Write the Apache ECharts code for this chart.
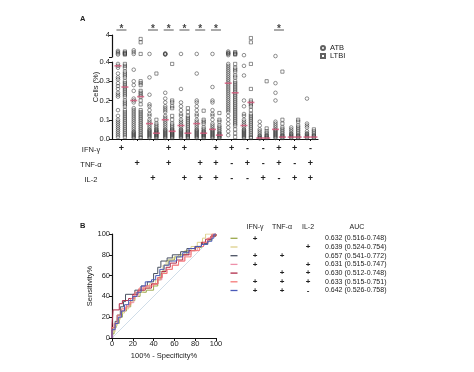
<!DOCTYPE html>
<html><head><meta charset="utf-8">
<script src="https://cdn.jsdelivr.net/npm/echarts@6/dist/echarts.min.js"></script>
<style>html,body{margin:0;padding:0;background:#fff}#c{width:474px;height:372px}</style>
</head><body><div id="c"></div>
<script>
// ---------- Panel A data ----------
const ifnRow = ['+','','','+','+','','+','+','-','-','+','+','-'];
const tnfRow = ['','+','','+','','+','+','-','+','-','+','-','+'];
const il2Row = ['','','+','','+','+','+','-','-','+','-','+','+'];
const rowLabels = ['IFN-\u03b3','TNF-\u03b1','IL-2'];
const sigGroups = [1,3,4,5,6,7,11];
const atbVals = [
 [1.4,1.2,1.0,0.8,0.39,0.38,0.37,0.34,0.32,0.31,0.29,0.275,0.26,0.24,0.23,0.22,0.15,0.12,0.1,0.09,0.08,0.07,0.06,0.05,0.04,0.03,0.02,0.01],
 [1.5,1.2,0.9,0.36,0.3,0.28,0.25,0.21,0.2,0.19,0.16,0.15,0.14,0.13,0.12,0.11,0.1,0.09,0.08,0.07,0.06,0.05,0.04,0.035,0.03,0.025,0.02,0.015,0.01,0.005],
 [0.9,0.32,0.23,0.18,0.17,0.15,0.13,0.12,0.1,0.09,0.08,0.07,0.06,0.05,0.045,0.04,0.035,0.03,0.025,0.02,0.015,0.01,0.005],
 [1.0,0.9,0.85,0.8,0.24,0.21,0.19,0.17,0.16,0.15,0.14,0.12,0.11,0.1,0.09,0.08,0.07,0.06,0.05,0.045,0.04,0.035,0.03,0.025,0.02,0.015,0.01,0.005],
 [0.9,0.26,0.19,0.17,0.15,0.13,0.12,0.1,0.09,0.08,0.07,0.06,0.05,0.045,0.04,0.035,0.03,0.025,0.02,0.015,0.01,0.005],
 [0.9,0.34,0.2,0.19,0.17,0.15,0.13,0.12,0.1,0.09,0.08,0.07,0.06,0.05,0.045,0.04,0.035,0.03,0.025,0.02,0.015,0.01,0.005],
 [0.9,0.27,0.2,0.19,0.15,0.13,0.12,0.1,0.08,0.07,0.06,0.05,0.045,0.04,0.035,0.03,0.025,0.02,0.015,0.01,0.005],
 [1.3,1.1,1.0,0.9,0.7,0.39,0.38,0.37,0.36,0.35,0.34,0.33,0.32,0.31,0.3,0.29,0.28,0.27,0.26,0.25,0.24,0.23,0.22,0.21,0.2,0.19,0.18,0.17,0.16,0.15,0.14,0.12,0.1,0.08,0.06,0.04,0.02],
 [0.7,0.38,0.33,0.2,0.17,0.13,0.12,0.1,0.09,0.08,0.07,0.06,0.05,0.045,0.04,0.035,0.03,0.025,0.02,0.015,0.01,0.005],
 [0.09,0.07,0.05,0.04,0.03,0.02,0.015,0.01,0.005,0.003],
 [0.55,0.29,0.24,0.2,0.09,0.08,0.07,0.06,0.05,0.045,0.04,0.035,0.03,0.025,0.02,0.015,0.01,0.005],
 [0.06,0.05,0.04,0.03,0.025,0.02,0.015,0.01,0.005],
 [0.21,0.08,0.07,0.06,0.04,0.03,0.025,0.02,0.015,0.01,0.005]
];
const ltbiVals = [
 [1.3,1.1,1.0,0.9,0.8,0.39,0.38,0.37,0.35,0.34,0.33,0.32,0.3,0.29,0.28,0.27,0.26,0.25,0.24,0.23,0.22,0.2,0.19,0.18,0.17,0.15,0.14,0.13,0.12,0.11,0.1,0.09,0.08,0.07,0.06,0.05,0.04,0.03,0.02,0.01],
 [3.35,2.8,0.9,0.3,0.29,0.28,0.25,0.24,0.23,0.22,0.2,0.18,0.15,0.14,0.13,0.12,0.11,0.1,0.09,0.08,0.07,0.06,0.05,0.04,0.03,0.02,0.01,0.005],
 [0.34,0.1,0.08,0.07,0.06,0.05,0.045,0.04,0.035,0.03,0.025,0.02,0.015,0.01,0.005],
 [0.39,0.2,0.19,0.17,0.16,0.12,0.1,0.08,0.07,0.06,0.05,0.045,0.04,0.035,0.03,0.025,0.02,0.015,0.01,0.005],
 [0.16,0.14,0.12,0.11,0.1,0.09,0.08,0.07,0.06,0.05,0.04,0.035,0.03,0.025,0.02,0.015,0.01,0.005],
 [0.147,0.1,0.09,0.08,0.06,0.05,0.04,0.035,0.03,0.025,0.02,0.015,0.01,0.005],
 [0.135,0.1,0.09,0.07,0.06,0.05,0.04,0.03,0.025,0.02,0.015,0.01,0.005],
 [1.2,1.0,0.9,0.8,0.39,0.37,0.36,0.35,0.33,0.32,0.3,0.29,0.28,0.27,0.26,0.25,0.24,0.23,0.22,0.21,0.2,0.19,0.18,0.17,0.16,0.15,0.14,0.13,0.12,0.11,0.1,0.09,0.08,0.07,0.05,0.03,0.01],
 [3.5,2.8,0.39,0.26,0.2,0.19,0.18,0.17,0.15,0.13,0.12,0.11,0.1,0.09,0.08,0.07,0.06,0.05,0.04,0.03,0.02,0.01,0.005],
 [0.3,0.055,0.04,0.03,0.02,0.015,0.01,0.005],
 [0.35,0.1,0.08,0.06,0.05,0.04,0.03,0.02,0.015,0.01,0.005],
 [0.1,0.09,0.07,0.06,0.05,0.04,0.03,0.02,0.015,0.01,0.005],
 [0.05,0.04,0.03,0.02,0.015,0.01,0.005]
];
const atbMedian  = [0.38,0.20,0.08,0.10,0.07,0.08,0.05,0.29,0.07,0.005,0.05,0.01,0.01];
const ltbiMedian = [0.27,0.22,0.03,0.04,0.03,0.03,0.02,0.24,0.19,0.005,0.01,0.01,0.01];

// ---------- Panel B data ----------
const rocNames = ['IFN','IL2','IFN+TNF','IFN+IL2','TNF+IL2','IFN+TNF+IL2','IFN+TNF+IL2-'];
const rocColors = ['#9aa84a','#ddd08a','#4a5262','#ee90aa','#b02a48','#f57a78','#4a5ab8'];
const rocIfn = ['+','','+','+','','+','+'];
const rocTnf = ['','','+','','+','+','+'];
const rocIl2 = ['','+','','+','+','+','-'];
const rocAuc = ['0.632 (0.516-0.748)','0.639 (0.524-0.754)','0.657 (0.541-0.772)','0.631 (0.515-0.747)','0.630 (0.512-0.748)','0.633 (0.515-0.751)','0.642 (0.526-0.758)'];
const rocCurves = [
 [[0,0],[0,4],[2,10],[4,14],[7,20],[10,26],[14,30],[18,36],[22,40],[27,44],[33,46],[40,50],[44,56],[47,62],[50,70],[54,75],[60,78],[66,80],[72,84],[80,87],[86,90],[92,94],[96,98],[100,100]],
 [[0,0],[0,6],[3,12],[5,18],[8,24],[12,28],[16,34],[20,40],[24,44],[30,48],[36,52],[42,56],[46,64],[49,70],[52,74],[58,77],[64,80],[70,84],[76,88],[82,92],[87,96],[90,100],[100,100]],
 [[0,0],[0,10],[3,16],[5,22],[8,30],[11,35],[13,42],[22,46],[28,50],[34,54],[40,62],[44,68],[47,74],[53,77],[58,80],[66,83],[72,86],[80,88],[86,91],[92,95],[96,99],[98,100],[100,100]],
 [[0,0],[0,8],[3,14],[6,20],[9,26],[13,30],[17,34],[21,40],[25,46],[30,50],[38,52],[44,56],[48,62],[52,66],[58,70],[64,74],[70,80],[76,84],[82,88],[88,92],[93,96],[97,100],[100,100]],
 [[0,0],[0,12],[1,27],[7,33],[10,36],[16,38],[20,42],[25,46],[32,48],[38,52],[44,58],[48,64],[52,68],[56,72],[62,75],[68,80],[74,84],[80,88],[86,92],[90,95],[95,98],[100,100]],
 [[0,0],[0,10],[2,14],[5,22],[9,28],[14,32],[18,38],[22,44],[26,48],[32,50],[40,52],[44,58],[48,62],[53,66],[58,70],[64,74],[70,78],[76,84],[84,88],[88,92],[92,96],[96,100],[100,100]],
 [[0,0],[0,8],[3,14],[6,20],[9,26],[12,32],[16,36],[20,40],[24,44],[28,50],[32,54],[38,56],[42,60],[46,66],[50,70],[55,74],[62,78],[68,82],[74,86],[80,88],[86,90],[92,93],[96,96],[98,100],[100,100]]
];
const diagonal = [[0,0],[100,100]];

// ---------- build ----------
const FONT = 'Liberation Sans, Arial, sans-serif';
const TXT = '#222';
const groups = ifnRow.map((_, i) => i + 1);
const OFF = 0.22;
function pts(arr, off, upper) {
  const out = [];
  arr.forEach((vals, i) => vals.forEach(v => { if (upper ? v > 0.4 : v <= 0.4) out.push([i + 1 + off, v]); }));
  return out;
}
const hollow = {color: 'rgba(0,0,0,0)', borderColor: '#3a3a3a', borderWidth: 0.7};
const axisBlack = {lineStyle: {color: '#111', width: 1.2}};
const xMin = 0.4, xMax = 13.48;

const series = [
  {name: 'ATB', type: 'scatter', xAxisIndex: 1, yAxisIndex: 1, symbol: 'circle', symbolSize: 3.6, itemStyle: hollow, data: pts(atbVals, -OFF, false)},
  {name: 'ATB', type: 'scatter', xAxisIndex: 0, yAxisIndex: 0, symbol: 'circle', symbolSize: 3.6, itemStyle: hollow, data: pts(atbVals, -OFF, true)},
  {name: 'LTBI', type: 'scatter', xAxisIndex: 1, yAxisIndex: 1, symbol: 'rect', symbolSize: 3.2, itemStyle: hollow, data: pts(ltbiVals, OFF, false)},
  {name: 'LTBI', type: 'scatter', xAxisIndex: 0, yAxisIndex: 0, symbol: 'rect', symbolSize: 3.2, itemStyle: hollow, data: pts(ltbiVals, OFF, true)},
  {name: 'medA', type: 'scatter', xAxisIndex: 1, yAxisIndex: 1, symbol: 'rect', symbolSize: [7, 1.6], z: 5,
   itemStyle: {color: '#d4587a'}, data: atbMedian.map((v, i) => [i + 1 - OFF, v])},
  {name: 'medL', type: 'scatter', xAxisIndex: 1, yAxisIndex: 1, symbol: 'rect', symbolSize: [7, 1.6], z: 5,
   itemStyle: {color: '#d4587a'}, data: ltbiMedian.map((v, i) => [i + 1 + OFF, v])},
  {name: 'sig', type: 'scatter', xAxisIndex: 2, yAxisIndex: 2, symbol: 'rect', symbolSize: [10, 0.9],
   itemStyle: {color: '#111'}, data: sigGroups.map(g => [g, 0]),
   label: {show: true, formatter: '*', position: 'top', distance: -5, fontSize: 10, fontWeight: 'bold', color: '#111', fontFamily: FONT}},
  {name: 'diag', type: 'line', xAxisIndex: 3, yAxisIndex: 3, symbol: 'none', data: diagonal,
   lineStyle: {color: '#c4d4e2', width: 0.8}, z: 1}
];
rocCurves.forEach((c, i) => series.push({
  name: rocNames[i], type: 'line', xAxisIndex: 3, yAxisIndex: 3, step: 'end', symbol: 'none',
  data: c, lineStyle: {color: rocColors[i], width: 1}, itemStyle: {color: rocColors[i]}
}));

const graphic = [
  {type: 'text', left: 80, top: 15, style: {text: 'A', font: 'bold 7.5px ' + FONT, fill: TXT}},
  {type: 'text', left: 80, top: 222, style: {text: 'B', font: 'bold 7.5px ' + FONT, fill: TXT}},
  {type: 'text', x: 96, y: 87, rotation: Math.PI / 2, style: {text: 'Cells (%)', font: '7.5px ' + FONT, fill: TXT, align: 'center', verticalAlign: 'middle'}}
];
rowLabels.forEach((t, i) => graphic.push({type: 'text', x: 91, y: 150 + i * 15, style: {text: t, font: '7.5px ' + FONT, fill: TXT, align: 'center', verticalAlign: 'middle'}}));
const hdrX = [255, 282, 308];
['IFN-\u03b3', 'TNF-\u03b1', 'IL-2'].forEach((t, i) => graphic.push({type: 'text', x: hdrX[i], y: 227, style: {text: t, font: '7px ' + FONT, fill: TXT, align: 'center', verticalAlign: 'middle'}}));
graphic.push({type: 'text', x: 357, y: 227, style: {text: 'AUC', font: '7px ' + FONT, fill: TXT, align: 'center', verticalAlign: 'middle'}});
rocNames.forEach((n, i) => {
  const y = 238.3 + i * 8.7;
  graphic.push({type: 'line', shape: {x1: 230.5, y1: y, x2: 237.5, y2: y}, style: {stroke: rocColors[i], lineWidth: 1.3}});
  [rocIfn[i], rocTnf[i], rocIl2[i]].forEach((s, j) => { if (s) graphic.push({type: 'text', x: hdrX[j], y: y, style: {text: s, font: 'bold 8px ' + FONT, fill: TXT, align: 'center', verticalAlign: 'middle'}}); });
  graphic.push({type: 'text', x: 325, y: y, style: {text: rocAuc[i], font: '7px ' + FONT, fill: TXT, align: 'left', verticalAlign: 'middle'}});
});

const option = {
  animation: false,
  backgroundColor: '#fff',
  textStyle: {fontFamily: FONT},
  legend: {
    data: [{name: 'ATB', icon: 'circle'}, {name: 'LTBI', icon: 'rect'}],
    orient: 'vertical', left: 320, top: 44, itemWidth: 4, itemHeight: 4, itemGap: 0, padding: 0,
    textStyle: {fontSize: 7.5, color: TXT, fontFamily: FONT}
  },
  grid: [
    {left: 112, top: 35, width: 206, height: 22},
    {left: 112, top: 62, width: 206, height: 77},
    {left: 112, top: 20, width: 206, height: 10},
    {left: 112, top: 234, width: 104, height: 104}
  ],
  xAxis: [
    {gridIndex: 0, type: 'value', min: xMin, max: xMax, show: false},
    {gridIndex: 1, type: 'value', min: xMin, max: xMax, splitLine: {show: false}, axisLine: axisBlack,
     axisTick: {show: true, customValues: groups, length: 2, lineStyle: {color: '#111'}},
     axisLabel: {show: true, customValues: groups, margin: 2.5, color: TXT,
       formatter: v => { const i = Math.round(v) - 1; return [ifnRow[i], tnfRow[i], il2Row[i]].map(s => '{s|' + (s || ' ') + '}').join('\n'); },
       rich: {s: {fontSize: 9, fontWeight: 'bold', lineHeight: 15, color: TXT, fontFamily: FONT}}}},
    {gridIndex: 2, type: 'value', min: xMin, max: xMax, show: false},
    {gridIndex: 3, type: 'value', min: 0, max: 100, interval: 20, splitLine: {show: false}, axisLine: axisBlack,
     axisTick: {length: 3, lineStyle: {color: '#111'}}, axisLabel: {fontSize: 7.5, color: TXT, margin: 2},
     name: '100% - Specificity%', nameLocation: 'middle', nameGap: 14, nameTextStyle: {fontSize: 7.5, color: TXT}}
  ],
  yAxis: [
    {gridIndex: 0, type: 'value', min: 0.4, max: 4, interval: 3.6, splitLine: {show: false}, axisLine: axisBlack,
     axisTick: {length: 3, lineStyle: {color: '#111'}},
     axisLabel: {fontSize: 7.5, color: TXT, margin: 2, formatter: v => Math.abs(v - 4) < 1e-6 ? '4' : ''}},
    {gridIndex: 1, type: 'value', min: 0, max: 0.4, interval: 0.1, splitLine: {show: false}, axisLine: axisBlack,
     axisTick: {length: 3, lineStyle: {color: '#111'}},
     axisLabel: {fontSize: 7.5, color: TXT, margin: 2, formatter: v => v.toFixed(1)}},
    {gridIndex: 2, type: 'value', min: 0, max: 1, show: false},
    {gridIndex: 3, type: 'value', min: 0, max: 100, interval: 20, splitLine: {show: false}, axisLine: axisBlack,
     axisTick: {length: 3, lineStyle: {color: '#111'}}, axisLabel: {fontSize: 7.5, color: TXT, margin: 2},
     name: 'Sensitivity%', nameLocation: 'middle', nameGap: 17, nameRotate: 90, nameTextStyle: {fontSize: 7.5, color: TXT}}
  ],
  graphic: graphic,
  series: series
};
const chart = echarts.init(document.getElementById('c'), null, {renderer: 'canvas'});
chart.setOption(option);
</script></body></html>
